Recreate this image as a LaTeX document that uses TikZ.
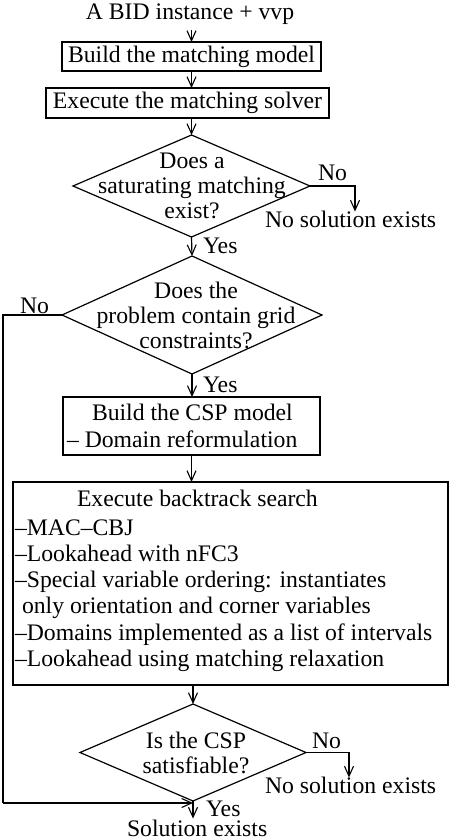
\documentclass[tikz,border=0pt]{standalone}
\usepackage{fontspec}
\setmainfont{Liberation Serif}
\usetikzlibrary{shapes.geometric,arrows.meta,calc}
\tikzset{
  every node/.style={inner sep=0pt, outer sep=0pt, font=\fontsize{23.7}{25}\selectfont},
  box/.style={draw, line width=1.2pt, rectangle},
  dia/.style={draw, line width=1.2pt, diamond, shape aspect=2},
  txt/.style={anchor=base west},
  arr/.style={line width=1.2pt, -{Straight Barb[length=10pt,width=9pt,line width=1.1pt]}},
  ln/.style={line width=1.5pt}
}
\begin{document}
\begin{tikzpicture}[x=1pt,y=1pt]
\useasboundingbox (0,0) rectangle (467,-840);
% nodes
\node[anchor=base] (t) at (190,-20) {A BID instance + vvp};
\node[box, minimum width=259pt, minimum height=29pt] (b1) at (191.5,-56.5) {Build the matching model};
\node[box, minimum width=283pt, minimum height=30pt] (b2) at (187.5,-103) {Execute the matching solver};
\node[dia, minimum width=237pt, minimum height=102pt] (d1) at (191.5,-186) {};
\node[align=center] (d1t) at (192,-186) {Does a\\saturating matching\\exist?};
\node[txt] (no1) at (318,-180) {No};
\node[txt] (ns1) at (265,-227) {No solution exists};
\node[txt] (yes1) at (203,-253) {Yes};
\node[dia, minimum width=260pt, minimum height=118pt] (d2) at (192,-315) {};
\node[align=center] (d2t) at (196,-315) {Does the\\problem contain grid\\constraints?};
\node[txt] (no2) at (20,-313) {No};
\node[txt] (yes2) at (203,-392) {Yes};
\node[box, minimum width=257pt, minimum height=58pt] (b3) at (191.5,-426) {};
\node[txt] (b3a) at (92,-420) {Build the CSP model};
\node[txt] (b3b) at (67,-447) {– Domain reformulation};
\node[box, minimum width=435pt, minimum height=203pt] (b4) at (230.5,-583.5) {};
\node[txt] (b4a) at (77,-506) {Execute backtrack search};
\node[txt] (b4b) at (15,-535) {–MAC–CBJ};
\node[txt] (b4c) at (15,-561) {–Lookahead with nFC3};
\node[txt] (b4d) at (15,-587) {–Special variable ordering: instantiates};
\node[txt] (b4e) at (22,-613) {only orientation and corner variables};
\node[txt] (b4f) at (15,-640) {–Domains implemented as a list of intervals};
\node[txt] (b4g) at (15,-666) {–Lookahead using matching relaxation};
\node[dia, minimum width=226pt, minimum height=97pt] (d3) at (193,-752.5) {};
\node[align=center] (d3t) at (196,-753) {Is the CSP\\satisfiable?};
\node[txt] (no3) at (312,-748) {No};
\node[txt] (ns3) at (265,-793) {No solution exists};
\node[txt] (yes3) at (206,-816) {Yes};
\node[txt] (sol) at (127,-836) {Solution exists};
\coordinate (n1c) at (355,-186);
\coordinate (n3c) at (349,-752.5);
\coordinate (lc) at (3,-803);
% connectors
\draw[arr] ($(b1.north |- t.south)+(0,-5)$) -- (b1.north);
\draw[arr] (b1.south) -- (b1.south |- b2.north);
\draw[arr] (d1.north |- b2.south) -- (d1.north);
\draw[arr] (d1.east) -- (n1c) -- ($(n1c |- ns1.north)+(0,-1)$);
\draw[arr] (d1.south) -- (d2.north);
\draw[arr] (d2.south) -- (d2.south |- b3.north);
\draw[ln] (d2.west) -| (lc);
\draw[arr] (lc) -- (lc -| d3.south);
\draw[arr] (b3.south) -- (b3.south |- b4.north);
\draw[arr] (d3.north |- b4.south) -- (d3.north);
\draw[arr] (d3.east) -- (n3c) -- ($(n3c |- ns3.north)+(0,-1)$);
\draw[arr] (d3.south) -- ($(d3.south |- sol.north)+(0,1)$);
\end{tikzpicture}
\end{document}
